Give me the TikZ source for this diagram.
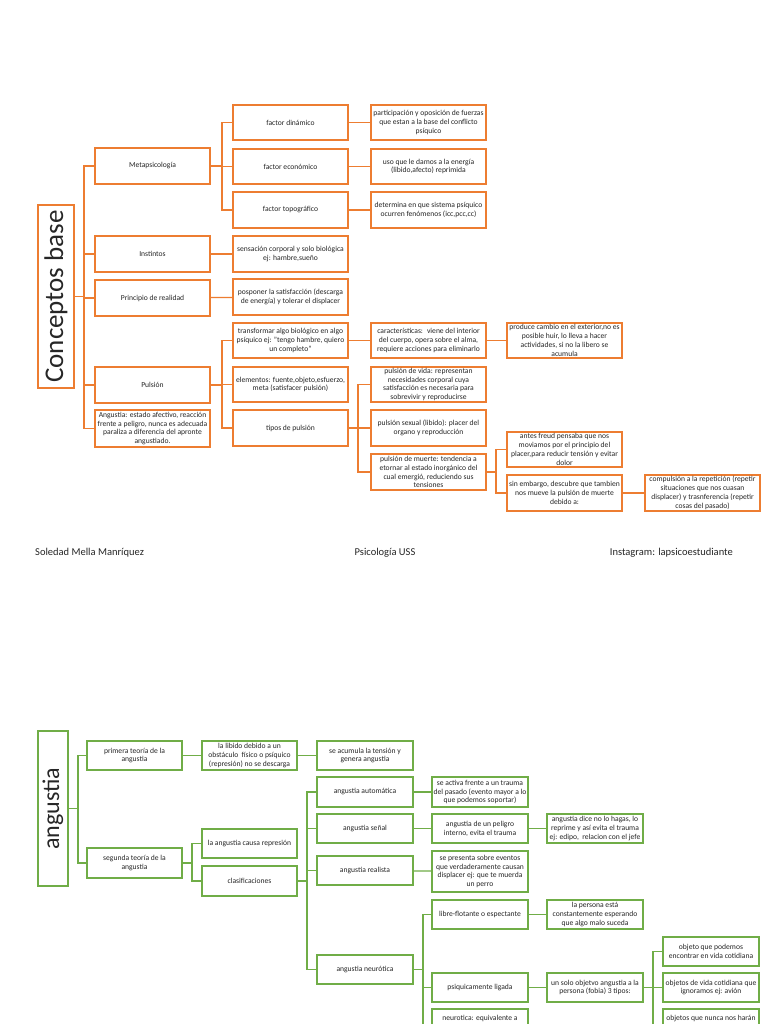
\documentclass[tikz,border=0pt]{standalone}
\usepackage{fontspec}
\setmainfont{Carlito}
\definecolor{org}{HTML}{ED7D31}
\definecolor{grn}{HTML}{70AD47}
\definecolor{txtc}{HTML}{262626}
\tikzset{
 obox/.style={draw=org, line width=1.2pt, fill=white, rectangle, inner sep=0pt},
 gbox/.style={draw=grn, line width=1.2pt, fill=white, rectangle, inner sep=0pt},
 txt/.style={align=center, inner sep=0pt, text=txtc, font=\fontsize{7.6}{8.8}\selectfont},
 oline/.style={draw=org, line width=1.2pt},
 gline/.style={draw=grn, line width=1.2pt},
 foot/.style={text=txtc, inner sep=0pt, font=\fontsize{10.5}{12}\selectfont},
 big/.style={rotate=90, text=txtc, inner sep=0pt},
}
\newcommand\bx[7]{%
 \node[#1, minimum width={(#5-#3)*1pt}, minimum height={(#6-#4)*1pt}] (#2) at ({(#3+#5)/2},{(#4+#6)/2}) {};
 \node[txt] (#2t) at (#2.center) {#7};}
\begin{document}
\begin{tikzpicture}[x=1pt,y=-1pt]
\useasboundingbox (0,0) rectangle (768,1024);
\clip (0,0) rectangle (768,1024);
\fill[white] (0,0) rectangle (768,1024);
% ---------------- orange part
\node[obox, minimum width=36pt, minimum height=183pt] (cb) at (56,296.5) {};
\node[big, font=\fontsize{27}{27}\selectfont] (cbt) at (cb.center) {Conceptos base};
\bx{obox}{meta}{95}{148}{210}{184}{Metapsicología}
\bx{obox}{inst}{95}{236}{210}{272}{Instintos}
\bx{obox}{prin}{95}{280}{210}{316}{Principio de realidad}
\bx{obox}{puls}{95}{367}{210}{403}{Pulsión}
\bx{obox}{ang}{95}{410}{210}{447}{Angustia: estado afectivo, reacción\\frente a peligro, nunca es adecuada\\paraliza a diferencia del apronte\\angustiado.}
\bx{obox}{fdin}{233}{105}{348}{140}{factor dinámico}
\bx{obox}{feco}{233}{149}{348}{184}{factor económico}
\bx{obox}{ftop}{233}{192}{348}{228}{factor topográfico}
\bx{obox}{sens}{233}{236}{348}{272}{sensación corporal y solo biológica\\ej: hambre,sueño}
\bx{obox}{posp}{233}{279}{348}{315}{posponer la satisfacción (descarga\\de energía) y tolerar el displacer}
\bx{obox}{trans}{233}{323}{348}{358}{transformar algo biológico en algo\\psíquico ej: "tengo hambre, quiero\\un completo"}
\bx{obox}{elem}{233}{367}{348}{402}{elementos: fuente,objeto,esfuerzo,\\meta (satisfacer pulsión)}
\bx{obox}{tipos}{233}{410}{348}{446}{tipos de pulsión}
\bx{obox}{part}{371}{105}{486}{140}{participación y oposición de fuerzas\\que estan a la base del conflicto\\psíquico}
\bx{obox}{uso}{371}{149}{486}{184}{uso que le damos a la energía\\(libido,afecto) reprimida}
\bx{obox}{det}{371}{192}{486}{228}{determina en que sistema psíquico\\ocurren fenómenos (icc,pcc,cc)}
\bx{obox}{car}{371}{323}{486}{358}{características:~ viene del interior\\del cuerpo, opera sobre el alma,\\requiere acciones para eliminarlo}
\bx{obox}{vida}{371}{367}{486}{402}{pulsión de vida: representan\\necesidades corporal cuya\\satisfacción es necesaria para\\sobrevivir y reproducirse}
\bx{obox}{sex}{371}{410}{486}{446}{pulsión sexual (libido): placer del\\organo y reproducción}
\bx{obox}{muer}{371}{454}{486}{490}{pulsión de muerte: tendencia a\\etornar al estado inorgánico del\\cual emergió, reduciendo sus\\tensiones}
\bx{obox}{prod}{507}{323}{622}{358}{produce cambio en el exterior,no es\\posible huir, lo lleva a hacer\\actividades, si no la libero se\\acumula}
\bx{obox}{antes}{507}{432}{622}{467}{antes freud pensaba que nos\\moviamos por el principio del\\placer,para reducir tensión y evitar\\dolor}
\bx{obox}{sinem}{507}{475}{622}{511}{sin embargo, descubre que tambien\\nos mueve la pulsión de muerte\\debido a:}
\bx{obox}{comp}{645}{475}{760}{511}{compulsión a la repetición (repetir\\situaciones que nos cuasan\\displacer) y trasnferencia (repetir\\cosas del pasado)}
\coordinate (tA) at (84,0);
\coordinate (tB) at (222,0);
\coordinate (tC) at (358,0);
\coordinate (tD) at (496,0);
\foreach \c in {meta,inst,prin,puls,ang}
  \draw[oline] (cb.east) -- (cb.east -| tA) |- (\c.west);
\foreach \c in {fdin,feco,ftop}
  \draw[oline] (meta.east) -- (meta.east -| tB) |- (\c.west);
\foreach \c in {trans,elem,tipos}
  \draw[oline] (puls.east) -- (puls.east -| tB) |- (\c.west);
\foreach \c in {vida,sex,muer}
  \draw[oline] (tipos.east) -- (tipos.east -| tC) |- (\c.west);
\foreach \c in {antes,sinem}
  \draw[oline] (muer.east) -- (muer.east -| tD) |- (\c.west);
\draw[oline] (fdin) -- (part);
\draw[oline] (feco) -- (uso);
\draw[oline] (ftop) -- (det);
\draw[oline] (inst) -- (sens);
\draw[oline] (prin) -- (posp);
\draw[oline] (trans) -- (car);
\draw[oline] (car) -- (prod);
\draw[oline] (sinem) -- (comp);
% ---------------- footer
\node[foot, anchor=base west] (f1) at (35,555) {Soledad Mella Manríquez};
\node[foot, anchor=base] (f2) at (385,555) {Psicología USS};
\node[foot, anchor=base east] (f3) at (733,555) {Instagram: lapsicoestudiante};
% ---------------- green part
\node[gbox, minimum width=30pt, minimum height=155pt] (ag) at (53,808.5) {};
\node[big, font=\fontsize{24}{24}\selectfont] (agt) at (ag.center) {angustia};
\bx{gbox}{pri}{87}{741}{182}{770}{primera teoría de la\\angustia}
\bx{gbox}{seg}{87}{848}{182}{878}{segunda teoría de la\\angustia}
\bx{gbox}{lib}{202}{741}{297}{770}{la libido debido a un\\obstáculo~ físico o psíquico\\(represión) no se descarga}
\bx{gbox}{acu}{317}{741}{413}{770}{se acumula la tensión y\\genera angustia}
\bx{gbox}{cau}{202}{829}{297}{858}{la angustia causa represión}
\bx{gbox}{cla}{202}{866}{297}{896}{clasificaciones}
\bx{gbox}{aut}{317}{777}{413}{807}{angustia automática}
\bx{gbox}{sen}{317}{814}{413}{843}{angustia señal}
\bx{gbox}{rea}{317}{856}{413}{885}{angustia realista}
\bx{gbox}{neu}{317}{955}{413}{984}{angustia neurótica}
\bx{gbox}{act}{432}{777}{528}{807}{se activa frente a un trauma\\del pasado (evento mayor a lo\\que podemos soportar)}
\bx{gbox}{pel}{432}{814}{528}{843}{angustia de un peligro\\interno, evita el trauma}
\bx{gbox}{pre}{432}{851}{528}{892}{se presenta sobre eventos\\que verdaderamente causan\\displacer ej: que te muerda\\un perro}
\bx{gbox}{dic}{547}{814}{643}{843}{angustia dice no lo hagas, lo\\reprime y así evita el trauma\\ej: edipo,~ relacion con el jefe}
\bx{gbox}{lf}{432}{900}{528}{929}{libre-flotante o espectante}
\bx{gbox}{per}{547}{900}{643}{929}{la persona está\\constantemente esperando\\que algo malo suceda}
\bx{gbox}{psl}{432}{973}{528}{1002}{psiquicamente ligada}
\bx{gbox}{sol}{547}{973}{643}{1002}{un solo objetvo angustia a la\\persona (fobia) 3 tipos:}
\node[gbox, minimum width=96pt, minimum height=36pt] (neq) at (480,1027) {};
\node[txt, anchor=base] (neqt) at (480,1020) {neurotica: equivalente a};
\bx{gbox}{o1}{663}{937}{759}{966}{objeto que podemos\\encontrar en vida cotidiana}
\bx{gbox}{o2}{663}{973}{759}{1002}{objetos de vida cotidiana que\\ignoramos ej: avión}
\node[gbox, minimum width=96pt, minimum height=36pt] (o3) at (711,1027) {};
\node[txt, anchor=base] (o3t) at (711,1020) {objetos que nunca nos harán};
\coordinate (gA) at (78,0);
\coordinate (gB) at (192,0);
\coordinate (gC) at (307,0);
\coordinate (gD) at (423,0);
\coordinate (gE) at (653,0);
\foreach \c in {pri,seg}
  \draw[gline] (ag.east) -- (ag.east -| gA) |- (\c.west);
\foreach \c in {cau,cla}
  \draw[gline] (seg.east) -- (seg.east -| gB) |- (\c.west);
\foreach \c in {aut,sen,rea,neu}
  \draw[gline] (cla.east) -- (cla.east -| gC) |- (\c.west);
\foreach \c in {lf,psl,neq}
  \draw[gline] (neu.east) -- (neu.east -| gD) |- (\c.west);
\foreach \c in {o1,o2,o3}
  \draw[gline] (sol.east) -- (sol.east -| gE) |- (\c.west);
\draw[gline] (pri) -- (lib);
\draw[gline] (lib) -- (acu);
\draw[gline] (aut) -- (act);
\draw[gline] (sen) -- (pel);
\draw[gline] (pel) -- (dic);
\draw[gline] (rea) -- (pre);
\draw[gline] (lf) -- (per);
\draw[gline] (psl) -- (sol);
\end{tikzpicture}
\end{document}
